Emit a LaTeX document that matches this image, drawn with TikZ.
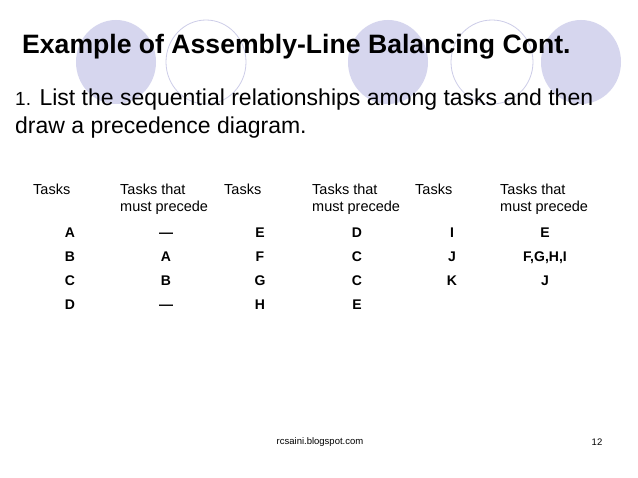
\documentclass[tikz,border=0pt]{standalone}
\usepackage{fontspec}
\setmainfont{Liberation Sans}
\definecolor{lav}{RGB}{214,214,238}
\definecolor{lavl}{RGB}{205,205,232}
\begin{document}
\begin{tikzpicture}[x=1pt,y=-1pt,
  fc/.style={fill=lav,draw=none},
  oc/.style={draw=lavl,line width=0.8pt},
  tx/.style={font=\fontsize{14.5}{16.5}\selectfont,inner sep=0},
  hd/.style={tx,anchor=north west,align=left},
  cl/.style={font=\bfseries\fontsize{14}{16}\selectfont,inner sep=0,anchor=base}]
\useasboundingbox (0,0) rectangle (638,478);
\fill[white] (0,0) rectangle (638,478);
\path[fc] (116,62) ellipse (40 and 42);
\path[oc] (206,62) ellipse (40 and 42);
\path[fc] (388,62) ellipse (40 and 42);
\path[oc] (492,62) ellipse (41 and 42);
\path[fc] (581,62) ellipse (40 and 42);
\node[anchor=west,inner sep=0,font=\bfseries\fontsize{26.6}{30}\selectfont] (t) at (22,47) {Example of Assembly-Line Balancing Cont.};
\node[anchor=north west,inner sep=0,align=left,font=\fontsize{23}{28}\selectfont] (s) at (15,89) {{\fontsize{19}{28}\selectfont 1.} List the sequential relationships among tasks and then\\draw a precedence diagram.};
\node[hd] (h1) at (33,184) {Tasks};
\node[hd] (h2) at (120,184) {Tasks that\\must precede};
\node[hd] (h3) at (224,184) {Tasks};
\node[hd] (h4) at (312,184) {Tasks that\\must precede};
\node[hd] (h5) at (415,184) {Tasks};
\node[hd] (h6) at (500,184) {Tasks that\\must precede};
\foreach \a/\b/\c/\d/\e/\f/\y in {A/---/E/D/I/E/238, B/A/F/C/J/{F,G,H,I}/262, C/B/G/C/K/J/286, D/---/H/E//{}/310}{
  \node[cl] at (70,\y) {\a};
  \node[cl] at (166,\y) {\b};
  \node[cl] at (260,\y) {\c};
  \node[cl] at (357,\y) {\d};
  \node[cl] at (452,\y) {\e};
  \node[cl] at (545,\y) {\f};
}
\node[font=\fontsize{9.5}{11}\selectfont,inner sep=0] (f) at (320,442) {rcsaini.blogspot.com};
\node[font=\fontsize{9.5}{11}\selectfont,inner sep=0] (p) at (597,442) {12};
\end{tikzpicture}
\end{document}
